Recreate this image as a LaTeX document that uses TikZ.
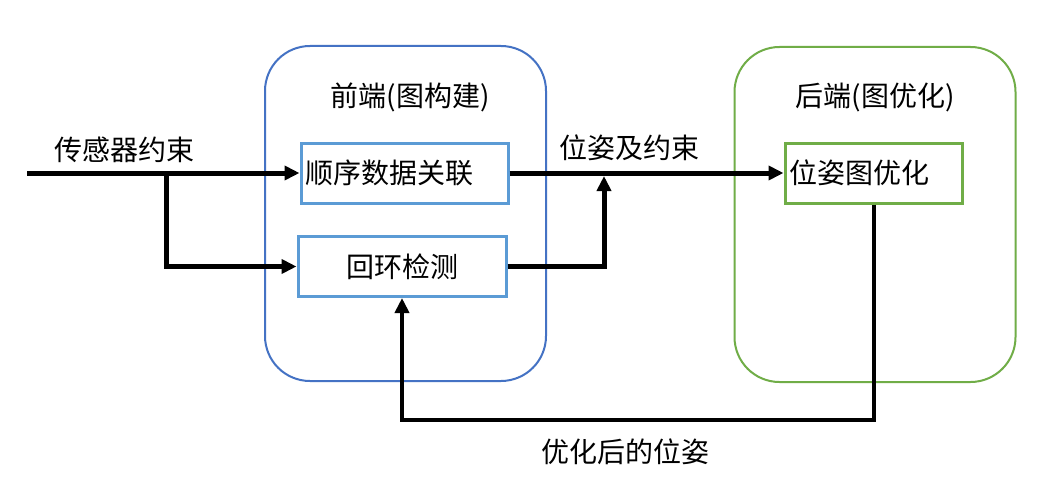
\documentclass[tikz,border=0pt]{standalone}
\usepackage{fontspec}
\setmainfont{Noto Sans CJK SC}
\usetikzlibrary{arrows.meta}
\definecolor{frontblue}{HTML}{4472C4}
\definecolor{boxblue}{HTML}{5B9BD5}
\definecolor{backgreen}{HTML}{70AD47}
\begin{document}
\begin{tikzpicture}[x=1pt,y=-1pt,
  font=\fontsize{28}{32}\selectfont,
  outer/.style={line width=2pt, rounded corners=45pt, minimum width=281pt, minimum height=335pt},
  inbox/.style={line width=3pt, minimum height=60pt, inner xsep=4pt, inner ysep=0pt},
  lbl/.style={inner sep=0pt},
  arr/.style={line width=5pt, -{Triangle[length=15pt,width=14pt]}},
  arrthin/.style={line width=4pt, -{Triangle[length=15pt,width=14pt]}}
]
\useasboundingbox (0,0) rectangle (1038,487);
\fill[white] (0,0) rectangle (1038,487);

\node[outer, draw=frontblue] (front) at (405.5,213.5) {};
\node[outer, draw=backgreen] (back) at (875,214.5) {};

\node[lbl] (fronttitle) at (410,97) {前端(图构建)};
\node[lbl] (backtitle) at (875,97) {后端(图优化)};

\node[inbox, draw=boxblue, text width=199pt, align=left] (seq) at (404.5,173) {顺序数据关联};
\node[inbox, draw=boxblue, text width=200pt, align=center] (loop) at (402,266.5) {回环检测};
\node[inbox, draw=backgreen, text width=169pt, align=left] (pose) at (873.5,173) {位姿图优化};

\node[lbl] (sensor) at (124,150) {传感器约束};
\node[lbl] (poscon) at (629,148) {位姿及约束};
\node[lbl] (optpose) at (625,452) {优化后的位姿};

\coordinate (in) at (27,173);
\coordinate (split) at (166,173);
\coordinate (merge) at (604,176);

\draw[arr] (in) -- (seq.west);
\draw[arr] (split) |- (loop.west);
\draw[arr] (seq.east) -- (pose.west);
\draw[arr] (loop.east) -| (merge);
\draw[arrthin] (pose.south) -- ++(0,215) -| (loop.south);
\end{tikzpicture}
\end{document}
